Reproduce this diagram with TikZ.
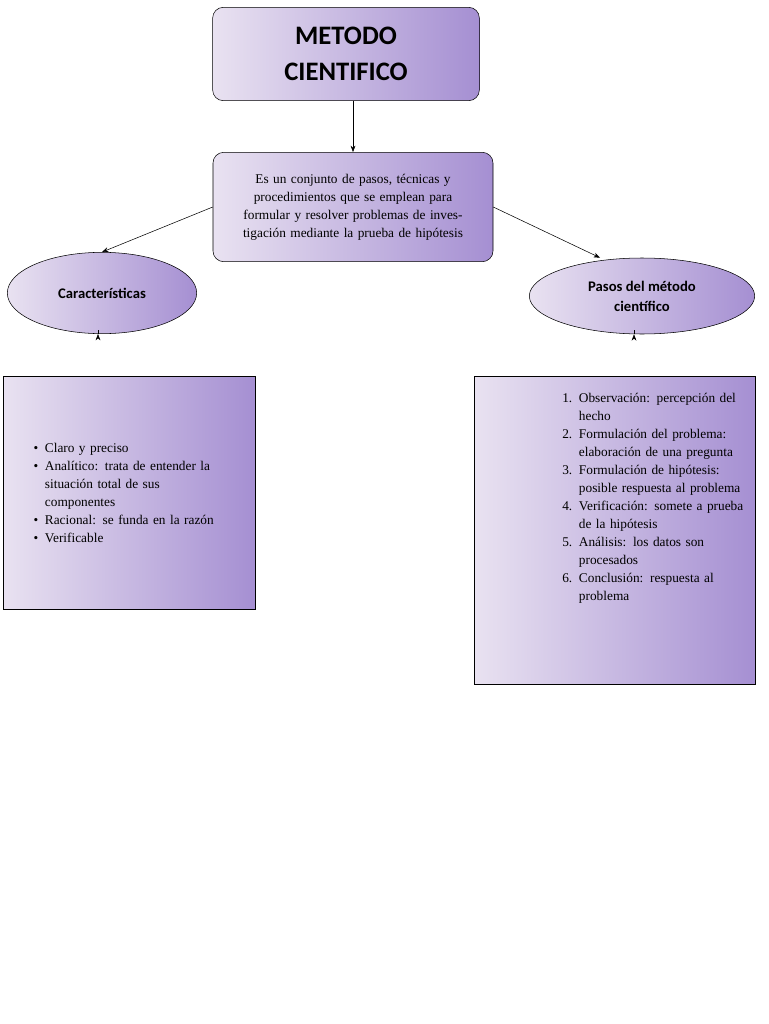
\documentclass[tikz,border=0pt]{standalone}
\usepackage{fontspec}
\setmainfont{Liberation Serif}
\newfontfamily\headfont{Carlito}
\usepackage{enumitem}
\usetikzlibrary{positioning, arrows.meta, shapes.geometric, calc}
\definecolor{lila}{HTML}{E9E2F1}
\definecolor{morado}{HTML}{A58FD2}
\begin{document}
\begin{tikzpicture}[
                x=0.75pt, y=-0.75pt,
                >=Stealth,
                caja/.style={draw=black, left color=lila, right color=morado, inner sep=2pt},
                globo/.style={caja, ellipse, font=\headfont\bfseries\fontsize{11}{15}\selectfont, align=center},
                flecha/.style={->, thin},
            ]
                \useasboundingbox (0,0) rectangle (768,1024);
                % Title and description
                \node[caja, rounded corners=8pt, minimum width=200pt, minimum height=70pt,
                      font=\headfont\bfseries\fontsize{20}{27}\selectfont, align=center]
                      (titulo) at (346,54) {METODO\\CIENTIFICO};
                \node[caja, rounded corners=8pt, minimum width=210pt, minimum height=82pt,
                      text width=170pt, align=center, font=\fontsize{10}{13.5}\selectfont]
                      (def) at (353,207) {Es un conjunto de pasos, técnicas y procedimientos que se emplean para formular y resolver problemas de investigación mediante la prueba de hipótesis};

                % The two branches
                \node[globo, minimum width=142pt, minimum height=61pt] (carac) at (102,293) {Características};
                \node[globo, minimum width=169pt, minimum height=57pt] (pasos) at (642,296) {Pasos del método\\científico};

                \node[caja, minimum width=189pt, minimum height=175pt] (izq) at (129,493) {};
                \node[caja, minimum width=211pt, minimum height=231pt] (der) at (615,530) {};

                % Lists
                \node[anchor=north west, text width=150pt, inner sep=0pt, font=\fontsize{10}{13.5}\selectfont] (listaizq) at (22,434) {%
                    \begin{itemize}[leftmargin=17pt, itemsep=0pt, parsep=0pt, topsep=0pt, label=\textbullet]
                    \item Claro y preciso
                    \item Analítico: trata de entender la situación total de sus componentes
                    \item Racional: se funda en la razón
                    \item Verificable
                    \end{itemize}};
                \node[anchor=north west, text width=148pt, inner sep=0pt, font=\fontsize{10}{13.5}\selectfont] (listader) at (552,384) {%
                    \begin{enumerate}[leftmargin=20pt, itemsep=0pt, parsep=0pt, topsep=0pt]
                    \item Observación: percepción del hecho
                    \item Formulación del problema: elaboración de una pregunta
                    \item Formulación de hipótesis: posible respuesta al problema
                    \item Verificación: somete a prueba de la hipótesis
                    \item Análisis: los datos son procesados
                    \item Conclusión: respuesta al problema
                    \end{enumerate}};

                % Connectors
                \draw[flecha] (titulo.south -| def.north) -- (def.north);
                \draw[flecha] (def.west) -- (carac.north);
                \draw[flecha] (def.east) -- ($(pasos.north)+(-42,0)$);
                \draw[flecha] ($(carac.south)+(-4,0)$) -- ($(carac.south)+(-4,0)$ |- izq.north);
                \draw[flecha] ($(pasos.south)+(-8,0)$) -- ($(pasos.south)+(-8,0)$ |- der.north);
            \end{tikzpicture}
\end{document}
